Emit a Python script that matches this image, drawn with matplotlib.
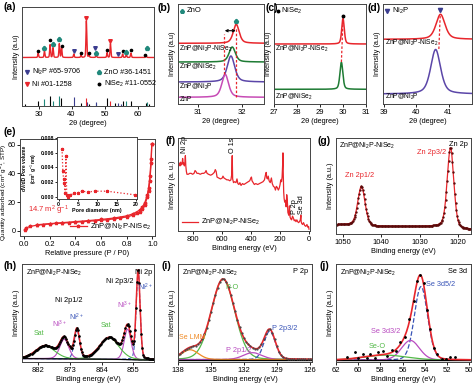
import numpy as np
import matplotlib.pyplot as plt

plt.rcParams['font.family'] = ['Liberation Sans', 'DejaVu Sans']
plt.rcParams['mathtext.fontset'] = 'custom'
plt.rcParams['mathtext.rm'] = 'Liberation Sans'
plt.rcParams['mathtext.it'] = 'Liberation Sans:italic'
plt.rcParams['mathtext.bf'] = 'Liberation Sans:bold'
plt.rcParams['axes.linewidth'] = 0.7
plt.rcParams['axes.edgecolor'] = '#444444'
plt.rcParams['xtick.major.size'] = 2
plt.rcParams['ytick.major.size'] = 2
plt.rcParams['xtick.major.width'] = 0.6
plt.rcParams['ytick.major.width'] = 0.6
plt.rcParams['xtick.labelsize'] = 5.5
plt.rcParams['ytick.labelsize'] = 5.5
plt.rcParams['xtick.major.pad'] = 1.5
plt.rcParams['ytick.major.pad'] = 1.5
plt.rcParams['axes.labelsize'] = 5.3
plt.rcParams['axes.labelpad'] = 1.5

RED = '#e8262c'
TEAL = '#21897c'
NAVY = '#3b3d8f'
GREEN = '#1e7b34'
PURPLE = '#5b46a8'
MAGENTA = '#c74bb5'
BLUE = '#3a55b8'
LGREEN = '#52b947'
PINK = '#b94bc0'
ORANGE = '#f08a24'
SAMPLE = 'ZnP@Ni$_2$P-NiSe$_2$'

# ---------------- data ----------------
# (a) XRD pattern: peak positions / heights above baseline (axes fraction)
xrd_pos = [29.9, 31.8, 33.5, 34.4, 36.3, 37.0, 40.7, 42.9, 44.5, 45.3, 47.5, 50.8, 51.8, 55.5, 56.6, 58.0, 62.6]
xrd_int = [0.045, 0.065, 0.13, 0.10, 0.14, 0.10, 0.035, 0.025, 0.37, 0.025, 0.03, 0.05, 0.14, 0.035, 0.035, 0.045, 0.025]
nise2_mk = [29.9, 33.5, 37.0, 42.9, 45.3, 50.8, 55.5, 58.0, 62.2]
nise2_mk_y = [0.556, 0.667, 0.609, 0.532, 0.532, 0.566, 0.556, 0.566, 0.515]
zno_mk = [31.8, 34.4, 36.3, 47.5, 56.6, 62.9]
zno_mk_y = [0.589, 0.623, 0.677, 0.539, 0.549, 0.582]
ni2p_mk = [40.7, 47.2, 54.0]
ni2p_mk_y = [0.556, 0.589, 0.529]
ni_mk = [44.5, 51.8]
ni_mk_y = [0.886, 0.657]
ref_nise2_pos = [26.0, 29.9, 33.6, 36.9, 42.9, 45.3, 50.8, 53.3, 55.5, 58.0, 62.6, 63.6]
ref_nise2_h = [0.02, 0.05, 0.10, 0.08, 0.03, 0.02, 0.08, 0.03, 0.05, 0.05, 0.03, 0.02]
ref_zno_pos = [31.8, 34.4, 36.3, 47.5, 56.6, 62.9]
ref_zno_h = [0.07, 0.05, 0.10, 0.03, 0.05, 0.04]
ref_ni2p_pos = [40.7, 44.6, 47.3, 54.2, 55.0]
ref_ni2p_h = [0.09, 0.04, 0.04, 0.03, 0.02]
ref_ni_pos = [44.5, 51.8]
ref_ni_h = [0.08, 0.05]

# (b) ZnO peak
b_names = [SAMPLE, 'ZnP@NiSe$_2$', 'ZnP@Ni$_2$P', 'ZnP']
b_colors = [RED, GREEN, PURPLE, MAGENTA]
b_centers = [31.87, 31.78, 31.75, 31.62]
b_heights = [0.19, 0.15, 0.26, 0.23]
b_widths = [0.16, 0.17, 0.20, 0.18]
b_base = [0.607, 0.42, 0.22, 0.067]
b_label_y = [0.547, 0.373, 0.17, 0.047]

# (c) NiSe2 peak
c_names = [SAMPLE, 'ZnP@NiSe$_2$']
c_colors = [RED, GREEN]
c_centers = [30.0, 29.93]
c_heights = [0.255, 0.27]
c_widths = [0.13, 0.15]
c_base = [0.60, 0.147]
c_label_y = [0.547, 0.073]

# (d) Ni2P peak
d_names = [SAMPLE, 'ZnP@Ni$_2$P']
d_colors = [RED, PURPLE]
d_centers = [40.75, 40.6]
d_heights = [0.25, 0.445]
d_widths = [0.33, 0.36]
d_base = [0.647, 0.10]
d_label_y = [0.61, 0.067]

# (e) N2 isotherm and pore size distribution
ads_p = [0.005, 0.02, 0.05, 0.1, 0.15, 0.2, 0.25, 0.3, 0.35, 0.4, 0.45, 0.5, 0.55, 0.6, 0.65, 0.7,
         0.75, 0.8, 0.85, 0.88, 0.9, 0.92, 0.94, 0.96, 0.97, 0.98, 0.99, 0.995]
ads_q = [1.0, 2.2, 3.2, 4.0, 4.5, 4.9, 5.2, 5.5, 5.8, 6.1, 6.4, 6.8, 7.1, 7.5, 7.9, 8.4,
         9.0, 9.8, 11.0, 12.2, 13.3, 15.0, 18.0, 23.5, 28.0, 35.0, 47.0, 60.5]
des_p = [0.995, 0.99, 0.98, 0.97, 0.96, 0.94, 0.92, 0.9, 0.85, 0.8, 0.7, 0.6, 0.5, 0.4, 0.3, 0.2, 0.1]
des_q = [60.5, 50.0, 38.0, 30.0, 25.0, 19.5, 16.5, 14.5, 12.0, 10.5, 9.0, 8.0, 7.2, 6.5, 5.8, 5.1, 4.3]
pore_d = [0.9, 1.1, 1.3, 1.5, 1.7, 1.9, 2.1, 2.5, 3.0, 4.0, 5.0, 6.0, 7.5, 9.5, 12.5, 19.8]
pore_v = [0.0065, 0.0035, 0.0024, 0.0019, 0.0006, 0.0055, 0.0003, 0.0000, 0.0003, 0.0005,
          0.0006, 0.0008, 0.0007, 0.0008, 0.0008, 0.0003]

# (f) XPS survey
f_be = [900, 895, 892, 888, 884, 878, 874, 870, 866, 862, 858, 855, 852, 848, 844, 835, 825, 815,
        805, 795, 788, 782, 775, 765, 752, 740, 728, 718, 712, 705, 695, 680, 668, 655, 648, 642,
        636, 625, 612, 600, 595, 588, 578, 568, 558, 548, 540, 535, 531, 528, 522, 515, 505, 498,
        492, 485, 478, 470, 460, 450, 440, 430, 420, 410, 402, 398, 394, 386, 378, 368, 355, 342,
        330, 318, 308, 300, 296, 292, 287, 282, 276, 268, 260, 254, 246, 238, 232, 226, 220, 212,
        206, 200, 195, 190, 186, 182, 180, 178, 175, 172, 168, 163, 158, 154, 150, 146, 140, 135,
        131, 126, 120, 114, 108, 102, 96, 90, 84, 78, 72, 66, 60, 56, 54, 50, 44, 38, 30, 22, 14,
        8, 3, 0]
f_int = [0.71, 0.73, 0.70, 0.74, 0.71, 0.72, 0.78, 0.72, 0.73, 0.70, 0.74, 0.81, 0.70, 0.64, 0.61,
         0.61, 0.62, 0.62, 0.61, 0.62, 0.65, 0.64, 0.62, 0.62, 0.61, 0.62, 0.62, 0.63, 0.65, 0.62,
         0.61, 0.60, 0.61, 0.63, 0.66, 0.64, 0.58, 0.57, 0.56, 0.57, 0.59, 0.57, 0.56, 0.55, 0.55,
         0.54, 0.55, 0.60, 0.81, 0.56, 0.52, 0.53, 0.52, 0.56, 0.51, 0.50, 0.52, 0.49, 0.51, 0.50,
         0.51, 0.52, 0.53, 0.54, 0.57, 0.58, 0.54, 0.52, 0.50, 0.51, 0.50, 0.51, 0.52, 0.53, 0.55,
         0.61, 0.63, 0.57, 0.56, 0.59, 0.54, 0.52, 0.57, 0.51, 0.48, 0.47, 0.44, 0.48, 0.47, 0.44,
         0.46, 0.50, 0.55, 0.53, 0.58, 0.72, 0.84, 0.62, 0.42, 0.35, 0.31, 0.33, 0.26, 0.39, 0.33,
         0.20, 0.17, 0.27, 0.15, 0.13, 0.12, 0.16, 0.14, 0.11, 0.12, 0.10, 0.12, 0.10, 0.09, 0.10,
         0.12, 0.17, 0.10, 0.08, 0.07, 0.09, 0.06, 0.05, 0.07, 0.04, 0.05, 0.02]

# (g) Zn 2p
g_centers = [1022.0, 1045.1]
g_heights = [0.84, 0.41]
g_widths = [2.0, 2.2]
g_bg = [0.045, 0.095]

# (h) Ni 2p components: Ni2+ 2p3/2, Ni3+ 2p3/2, Sat, Ni2+ 2p1/2, Ni3+ 2p1/2, Sat
h_centers = [853.6, 856.6, 861.8, 871.0, 874.6, 880.0]
h_heights = [0.90, 0.31, 0.22, 0.30, 0.20, 0.13]
h_widths = [1.3, 2.3, 6.5, 1.8, 3.0, 6.5]
h_colors = [BLUE, PINK, LGREEN, BLUE, PINK, LGREEN]
h_bg = [0.02, 0.035]

# (i) P 2p components: P-O, P 2p3/2, P 2p1/2, Se LMM
i_centers = [133.9, 129.65, 131.2, 136.9]
i_heights = [0.82, 0.29, 0.07, 0.10]
i_widths = [2.5, 1.2, 2.0, 1.8]
i_colors = [LGREEN, BLUE, PINK, ORANGE]
i_bg = 0.025

# (j) Se 3d components: Se 3d5/2, Se 3d3/2, Se-O
j_centers = [54.35, 55.3, 57.5]
j_heights = [0.75, 0.20, 0.05]
j_widths = [1.4, 1.9, 4.5]
j_colors = [BLUE, PINK, LGREEN]
j_bg = 0.02
j_dot_be = [61.0, 60.3, 60.0, 59.6, 59.2, 58.9, 58.5, 58.2, 57.8, 57.4, 57.0, 56.6, 56.2, 55.8,
            55.4, 55.0, 54.7, 54.4, 54.1, 53.8, 53.5, 53.2, 52.9, 52.5, 52.1, 51.7, 51.3]
j_dot_off = [0.02, 0.06, 0.00, 0.03, -0.02, 0.02, -0.03, 0.03, 0.04, -0.02, 0.03, -0.02, 0.02,
             -0.01, 0.03, -0.02, 0.01, 0.0, 0.02, -0.02, 0.02, -0.02, 0.0, -0.01, 0.0, 0.02, 0.03]


def pv(x, c, h, w, eta=0.3):
    u = ((x - c) / w) ** 2
    return h * ((1 - eta) * np.exp(-4 * np.log(2) * u) + eta / (1 + 4 * u))


def shirley(x, peaks, low, high):
    # x ascending binding energy
    cum = np.cumsum(peaks)
    return low + (high - low) * cum / cum[-1]


W, H = 474, 383
fig = plt.figure(figsize=(W / 100, H / 100), dpi=100)


def add_ax(x0, y0, x1, y1):
    return fig.add_axes([x0 / W, 1 - y1 / H, (x1 - x0) / W, (y1 - y0) / H])


def panel(tx, ty, s):
    fig.text(tx / W, 1 - ty / H, s, fontsize=7.5, fontweight='bold', va='top', ha='left')


def xps_style(ax, xlim, xticks, ylabel='Intensity (a.u.)'):
    ax.set_xlim(*xlim)
    ax.set_ylim(0, 1)
    ax.set_xticks(xticks)
    ax.set_yticks([])
    ax.set_xlabel('Binding energy (eV)')
    ax.set_ylabel(ylabel)


CLUB = r'$\clubsuit$'

# ---------------- (a) ----------------
ax = add_ax(22, 7, 154, 106)
x = np.linspace(25, 65, 3000)
pattern = 0.49 + sum(pv(x, c, h, 0.3) for c, h in zip(xrd_pos, xrd_int))
ax.plot(x, pattern, color=RED, lw=1.0)
for pos, hts, col in [(ref_nise2_pos, ref_nise2_h, 'k'), (ref_zno_pos, ref_zno_h, TEAL),
                      (ref_ni2p_pos, ref_ni2p_h, NAVY), (ref_ni_pos, ref_ni_h, RED)]:
    ax.vlines(pos, 0, hts, color=col, lw=0.8)
ax.plot(nise2_mk, nise2_mk_y, 'o', color='k', ms=1.6, ls='none')
ax.plot(zno_mk, zno_mk_y, marker=CLUB, color=TEAL, ms=2.8, ls='none')
ax.plot(ni2p_mk, ni2p_mk_y, 'v', color=NAVY, ms=2.6, ls='none')
ax.plot(ni_mk, ni_mk_y, 'v', color=RED, ms=2.6, ls='none')
leg = [(0.04, 0.343, 'v', NAVY, 'Ni$_2$P #65-9706'), (0.585, 0.343, CLUB, TEAL, 'ZnO #36-1451'),
       (0.04, 0.222, 'v', RED, 'Ni #01-1258'), (0.585, 0.222, 'o', 'k', 'NiSe$_2$ #11-0552')]
for lx, ly, mk, col, txt in leg:
    ax.plot([lx], [ly], marker=mk, color=col, ms=1.8 if mk == 'o' else 2.8,
            transform=ax.transAxes, ls='none')
    ax.text(lx + 0.035, ly, txt, transform=ax.transAxes, fontsize=5.2, va='center')
ax.set_xlim(25, 65)
ax.set_ylim(0, 1)
ax.set_xticks([30, 40, 50, 60])
ax.set_yticks([])
ax.set_xlabel('2θ (degree)')
ax.set_ylabel('Intensity (a.u)')
panel(3, 2, '(a)')

# ---------------- (b) ----------------
ax = add_ax(178, 4, 264, 104)
x = np.linspace(30.55, 32.5, 800)
for nm, col, c, h, w, b, ly in zip(b_names, b_colors, b_centers, b_heights, b_widths, b_base, b_label_y):
    ax.plot(x, b + pv(x, c, h, w, 0.5), color=col, lw=1.1)
    ax.text(30.58, ly, nm, fontsize=4.8, va='center')
ax.plot([31.60, 31.60], [0.30, 0.70], ls=(0, (2, 1.5)), color=RED, lw=0.9)
ax.plot([31.87, 31.87], [0.07, 0.77], ls=(0, (2, 1.5)), color=RED, lw=0.9)
ax.annotate('', xy=(31.61, 0.733), xytext=(31.86, 0.733),
            arrowprops=dict(arrowstyle='<->', lw=0.8, color='k', shrinkA=0, shrinkB=0, mutation_scale=4))
ax.plot([31.87], [0.835], marker=CLUB, color=TEAL, ms=2.8)
ax.plot([0.05], [0.93], marker=CLUB, color=TEAL, ms=2.6, transform=ax.transAxes)
ax.text(0.1, 0.93, 'ZnO', transform=ax.transAxes, fontsize=5.5, va='center')
ax.set_xlim(30.55, 32.5)
ax.set_ylim(0, 1)
ax.set_xticks([31, 32])
ax.set_yticks([])
ax.set_xlabel('2θ (degree)')
ax.set_ylabel('Intensity (a.u)')
panel(157, 3, '(b)')

# ---------------- (c) ----------------
ax = add_ax(274, 4, 366, 104)
x = np.linspace(27, 31, 1200)
for nm, col, c, h, w, b, ly in zip(c_names, c_colors, c_centers, c_heights, c_widths, c_base, c_label_y):
    ax.plot(x, b + pv(x, c, h, w, 0.4), color=col, lw=1.1)
    ax.text(27.05, ly, nm, fontsize=4.8, va='center')
ax.plot([29.93, 30.0], [0.42, 0.84], ls=(0, (2, 1.5)), color=RED, lw=0.9)
ax.plot([30.0], [0.885], 'o', color='k', ms=1.8)
ax.plot([0.04], [0.93], 'o', color='k', ms=1.8, transform=ax.transAxes)
ax.text(0.08, 0.93, 'NiSe$_2$', transform=ax.transAxes, fontsize=5.5, va='center')
ax.set_xlim(27, 31)
ax.set_ylim(0, 1)
ax.set_xticks([27, 28, 29, 30, 31])
ax.set_yticks([])
ax.set_xlabel('2θ (degree)')
ax.set_ylabel('Intensity (a.u)')
panel(265, 3, '(c)')

# ---------------- (d) ----------------
ax = add_ax(383, 4, 472, 104)
x = np.linspace(38.98, 41.72, 800)
for nm, col, c, h, w, b, ly in zip(d_names, d_colors, d_centers, d_heights, d_widths, d_base, d_label_y):
    ax.plot(x, b + pv(x, c, h, w, 0.5), color=col, lw=1.1)
    ax.text(39.05, ly, nm, fontsize=4.8, va='center')
ax.plot([40.7, 40.74], [0.55, 0.88], ls=(0, (2, 1.5)), color=RED, lw=0.9)
ax.plot([40.75], [0.94], 'v', color=NAVY, ms=3)
ax.plot([0.05], [0.93], 'v', color=NAVY, ms=3, transform=ax.transAxes)
ax.text(0.1, 0.93, 'Ni$_2$P', transform=ax.transAxes, fontsize=5.5, va='center')
ax.set_xlim(38.98, 41.72)
ax.set_ylim(0, 1)
ax.set_xticks([39, 40, 41])
ax.set_yticks([])
ax.set_xlabel('2θ (degree)')
ax.set_ylabel('Intensity (a.u)')
panel(367, 3, '(d)')

# ---------------- (e) ----------------
ax = add_ax(20, 139, 155, 236)
ax.plot(ads_p, ads_q, color=RED, lw=0.9, marker='*', ms=2.5, label=SAMPLE)
ax.plot(des_p, des_q, color=RED, lw=0.9, marker='*', ms=2.5)
ax.text(0.03, 14.5, '14.7 m$^2$ g$^{-1}$', color=RED, fontsize=5.5, va='center')
ax.set_xlim(-0.03, 1.02)
ax.set_ylim(-3.5, 64)
ax.set_xticks([0.0, 0.2, 0.4, 0.6, 0.8, 1.0])
ax.set_yticks([0, 20, 40, 60])
ax.tick_params(axis='y', pad=1, labelsize=5.2)
ax.set_xlabel('Relative pressure (P / P0)')
ax.set_ylabel('Quantity adsorbed (cm$^3$ g$^{-1}$, STP)', fontsize=4.6)
ax.yaxis.set_label_coords(-0.083, 0.45)
ax.legend(loc='lower right', frameon=False, fontsize=5.5, handlelength=2.2, borderaxespad=0.15,
          handletextpad=0.4)
ins = add_ax(57, 137, 137, 199)
ins.plot(pore_d, pore_v, ls=':', color=RED, lw=0.9, marker='*', ms=2.2)
ins.set_xlim(-0.4, 20.2)
ins.set_ylim(-0.00025, 0.0081)
ins.set_xticks([0, 5, 10, 15, 20])
ins.set_yticks([0.0, 0.002, 0.004, 0.006, 0.008])
ins.set_yticklabels(['0.000', '0.002', '0.004', '0.006', '0.008'])
ins.tick_params(labelsize=3.8, length=1.5, pad=0.8)
for lab in ins.get_xticklabels() + ins.get_yticklabels():
    lab.set_fontweight('bold')
ins.set_xlabel('Pore diameter (nm)', fontsize=3.9, fontweight='bold', labelpad=0.5)
ins.set_ylabel('dV/dD Pore volume\n(cm$^3$ g$^{-1}$ nm)', fontsize=3.5, fontweight='bold', labelpad=1)
panel(3, 127, '(e)')

# ---------------- (f) ----------------
ax = add_ax(178, 138, 310, 231)
ax.plot(f_be, f_int, color=RED, lw=0.9, label=SAMPLE)
ax.text(858, 0.84, 'Ni 2p', rotation=90, fontsize=5.2, ha='center', va='bottom')
ax.text(531, 0.84, 'O 1s', rotation=90, fontsize=5.2, ha='center', va='bottom')
ax.text(100, 0.18, 'P 2p', rotation=90, fontsize=5.2, ha='center', va='bottom')
ax.text(52, 0.18, 'Se 3d', rotation=90, fontsize=5.2, ha='center', va='bottom')
ax.legend(loc='lower left', frameon=False, fontsize=5.3, handlelength=2.2, borderaxespad=0.1,
          handletextpad=0.4)
xps_style(ax, (906, -7), [800, 600, 400, 200, 0], 'Intensity (a. u.)')
panel(165, 136, '(f)')

# ---------------- (g) ----------------
ax = add_ax(336, 138, 471, 234)
x = np.arange(1016.7, 1051.7, 0.2)
peaks = sum(pv(x, c, h, w, 0.3) for c, h, w in zip(g_centers, g_heights, g_widths))
total = shirley(x, peaks, *g_bg) + peaks
ax.plot(x, total, color=RED, lw=0.9)
ax.plot(x, total, 'o', color='#5a0a0a', ms=0.7, ls='none')
ax.text(0.02, 0.97, SAMPLE, transform=ax.transAxes, fontsize=5, va='top')
ax.text(0.98, 0.97, 'Zn 2p', transform=ax.transAxes, fontsize=5.3, va='top', ha='right')
ax.text(1045.5, 0.59, 'Zn 2p1/2', color=RED, fontsize=5.3, ha='center')
ax.text(1023.2, 0.83, 'Zn 2p3/2', color=RED, fontsize=5.3, ha='right')
xps_style(ax, (1051.7, 1016.7), [1050, 1040, 1030, 1020])
panel(318, 136, '(g)')

# ---------------- (h) ----------------
ax = add_ax(22, 264, 154, 362)
x = np.arange(849.1, 886.6, 0.15)
comps = [pv(x, c, h, w, 0.2) for c, h, w in zip(h_centers, h_heights, h_widths)]
peaks = sum(comps)
bg = shirley(x, peaks, *h_bg)
for comp, col in zip(comps, h_colors):
    ax.plot(x, bg + comp, color=col, lw=0.8, ls='--' if col == BLUE else '-')
ax.plot(x, bg, color='k', lw=0.8)
ax.plot(x, bg + peaks, color=RED, lw=1.1)
ax.plot(x[::2], (bg + peaks)[::2], 'o', color='k', ms=0.9, ls='none')
ax.text(0.03, 0.96, SAMPLE, transform=ax.transAxes, fontsize=5, va='top')
ax.text(852.0, 0.95, 'Ni 2p', fontsize=5.3, ha='center', va='top')
ax.text(858.7, 0.82, 'Ni 2p3/2', fontsize=5.3, ha='center', va='center')
ax.text(873.2, 0.625, 'Ni 2p1/2', fontsize=5.3, ha='center', va='center')
ax.text(871.0, 0.46, 'Ni$^{2+}$', color=BLUE, fontsize=5, ha='center', va='center')
ax.text(851.6, 0.76, 'Ni$^{2+}$', color=BLUE, fontsize=5, ha='center', va='center')
ax.text(876.0, 0.38, 'Ni$^{3+}$', color=PINK, fontsize=5, ha='center', va='center')
ax.text(857.4, 0.58, 'Ni$^{3+}$', color=PINK, fontsize=5, ha='center', va='center')
ax.text(881.7, 0.29, 'Sat', color=LGREEN, fontsize=5, ha='center', va='center')
ax.text(862.8, 0.37, 'Sat', color=LGREEN, fontsize=5, ha='center', va='center')
xps_style(ax, (886.6, 849.1), [882, 873, 864, 855])
panel(3, 261, '(h)')

# ---------------- (i) ----------------
ax = add_ax(178, 264, 312, 362)
x = np.arange(125.8, 138.0, 0.05)
comps = [pv(x, c, h, w, 0.1) for c, h, w in zip(i_centers, i_heights, i_widths)]
peaks = sum(comps)
for comp, col in zip(comps, i_colors):
    ax.plot(x, i_bg + comp, color=col, lw=0.9, ls='--' if col == BLUE else '-')
ax.axhline(i_bg, color='k', lw=1.0)
ax.plot(x, i_bg + peaks, color=RED, lw=1.2)
ax.plot(x[::4], (i_bg + peaks)[::4], 'o', color='#444444', ms=0.6, ls='none')
ax.text(0.03, 0.96, SAMPLE, transform=ax.transAxes, fontsize=5, va='top')
ax.text(0.97, 0.96, 'P 2p', transform=ax.transAxes, fontsize=5.3, va='top', ha='right')
ax.text(133.1, 0.76, 'P-O', color=LGREEN, fontsize=5.3, ha='center', va='center')
ax.text(129.4, 0.34, 'P 2p3/2', color=BLUE, fontsize=5.3, ha='left', va='center')
ax.text(132.5, 0.12, 'P 2p1/2', color=PINK, fontsize=5.3, ha='center', va='center')
ax.text(137.9, 0.245, 'Se LMM', color=ORANGE, fontsize=5, ha='left', va='center')
xps_style(ax, (138, 125.8), [138, 135, 132, 129, 126])
panel(162, 261, '(i)')

# ---------------- (j) ----------------
ax = add_ax(336, 264, 471, 362)
x = np.arange(49.85, 62.0, 0.05)
comps = [pv(x, c, h, w, 0.1) for c, h, w in zip(j_centers, j_heights, j_widths)]
peaks = sum(comps)
for comp, col in zip(comps, j_colors):
    ax.plot(x, j_bg + comp, color=col, lw=0.9, ls='--' if col == BLUE else '-')
ax.axhline(j_bg, color='k', lw=1.0)
ax.plot(x, j_bg + peaks, color=RED, lw=1.2)
dot_be = np.array(j_dot_be)
dot_fit = j_bg + sum(pv(dot_be, c, h, w, 0.1) for c, h, w in zip(j_centers, j_heights, j_widths))
ax.plot(dot_be, dot_fit + np.array(j_dot_off), 'o', color='k', ms=1.0, ls='none')
ax.text(0.03, 0.96, SAMPLE, transform=ax.transAxes, fontsize=5, va='top')
ax.text(0.97, 0.96, 'Se 3d', transform=ax.transAxes, fontsize=5.3, va='top', ha='right')
ax.text(53.9, 0.79, 'Se 3d5/2', color=BLUE, fontsize=5.3, ha='left', va='center')
ax.text(57.5, 0.31, 'Se 3d3/2', color=PINK, fontsize=5.3, ha='center', va='center')
ax.text(58.3, 0.16, 'Se-O', color=LGREEN, fontsize=5.3, ha='center', va='center')
xps_style(ax, (62, 49.85), [62, 60, 58, 56, 54, 52, 50])
panel(320, 261, '(j)')

fig.savefig('out.png', dpi=100)
